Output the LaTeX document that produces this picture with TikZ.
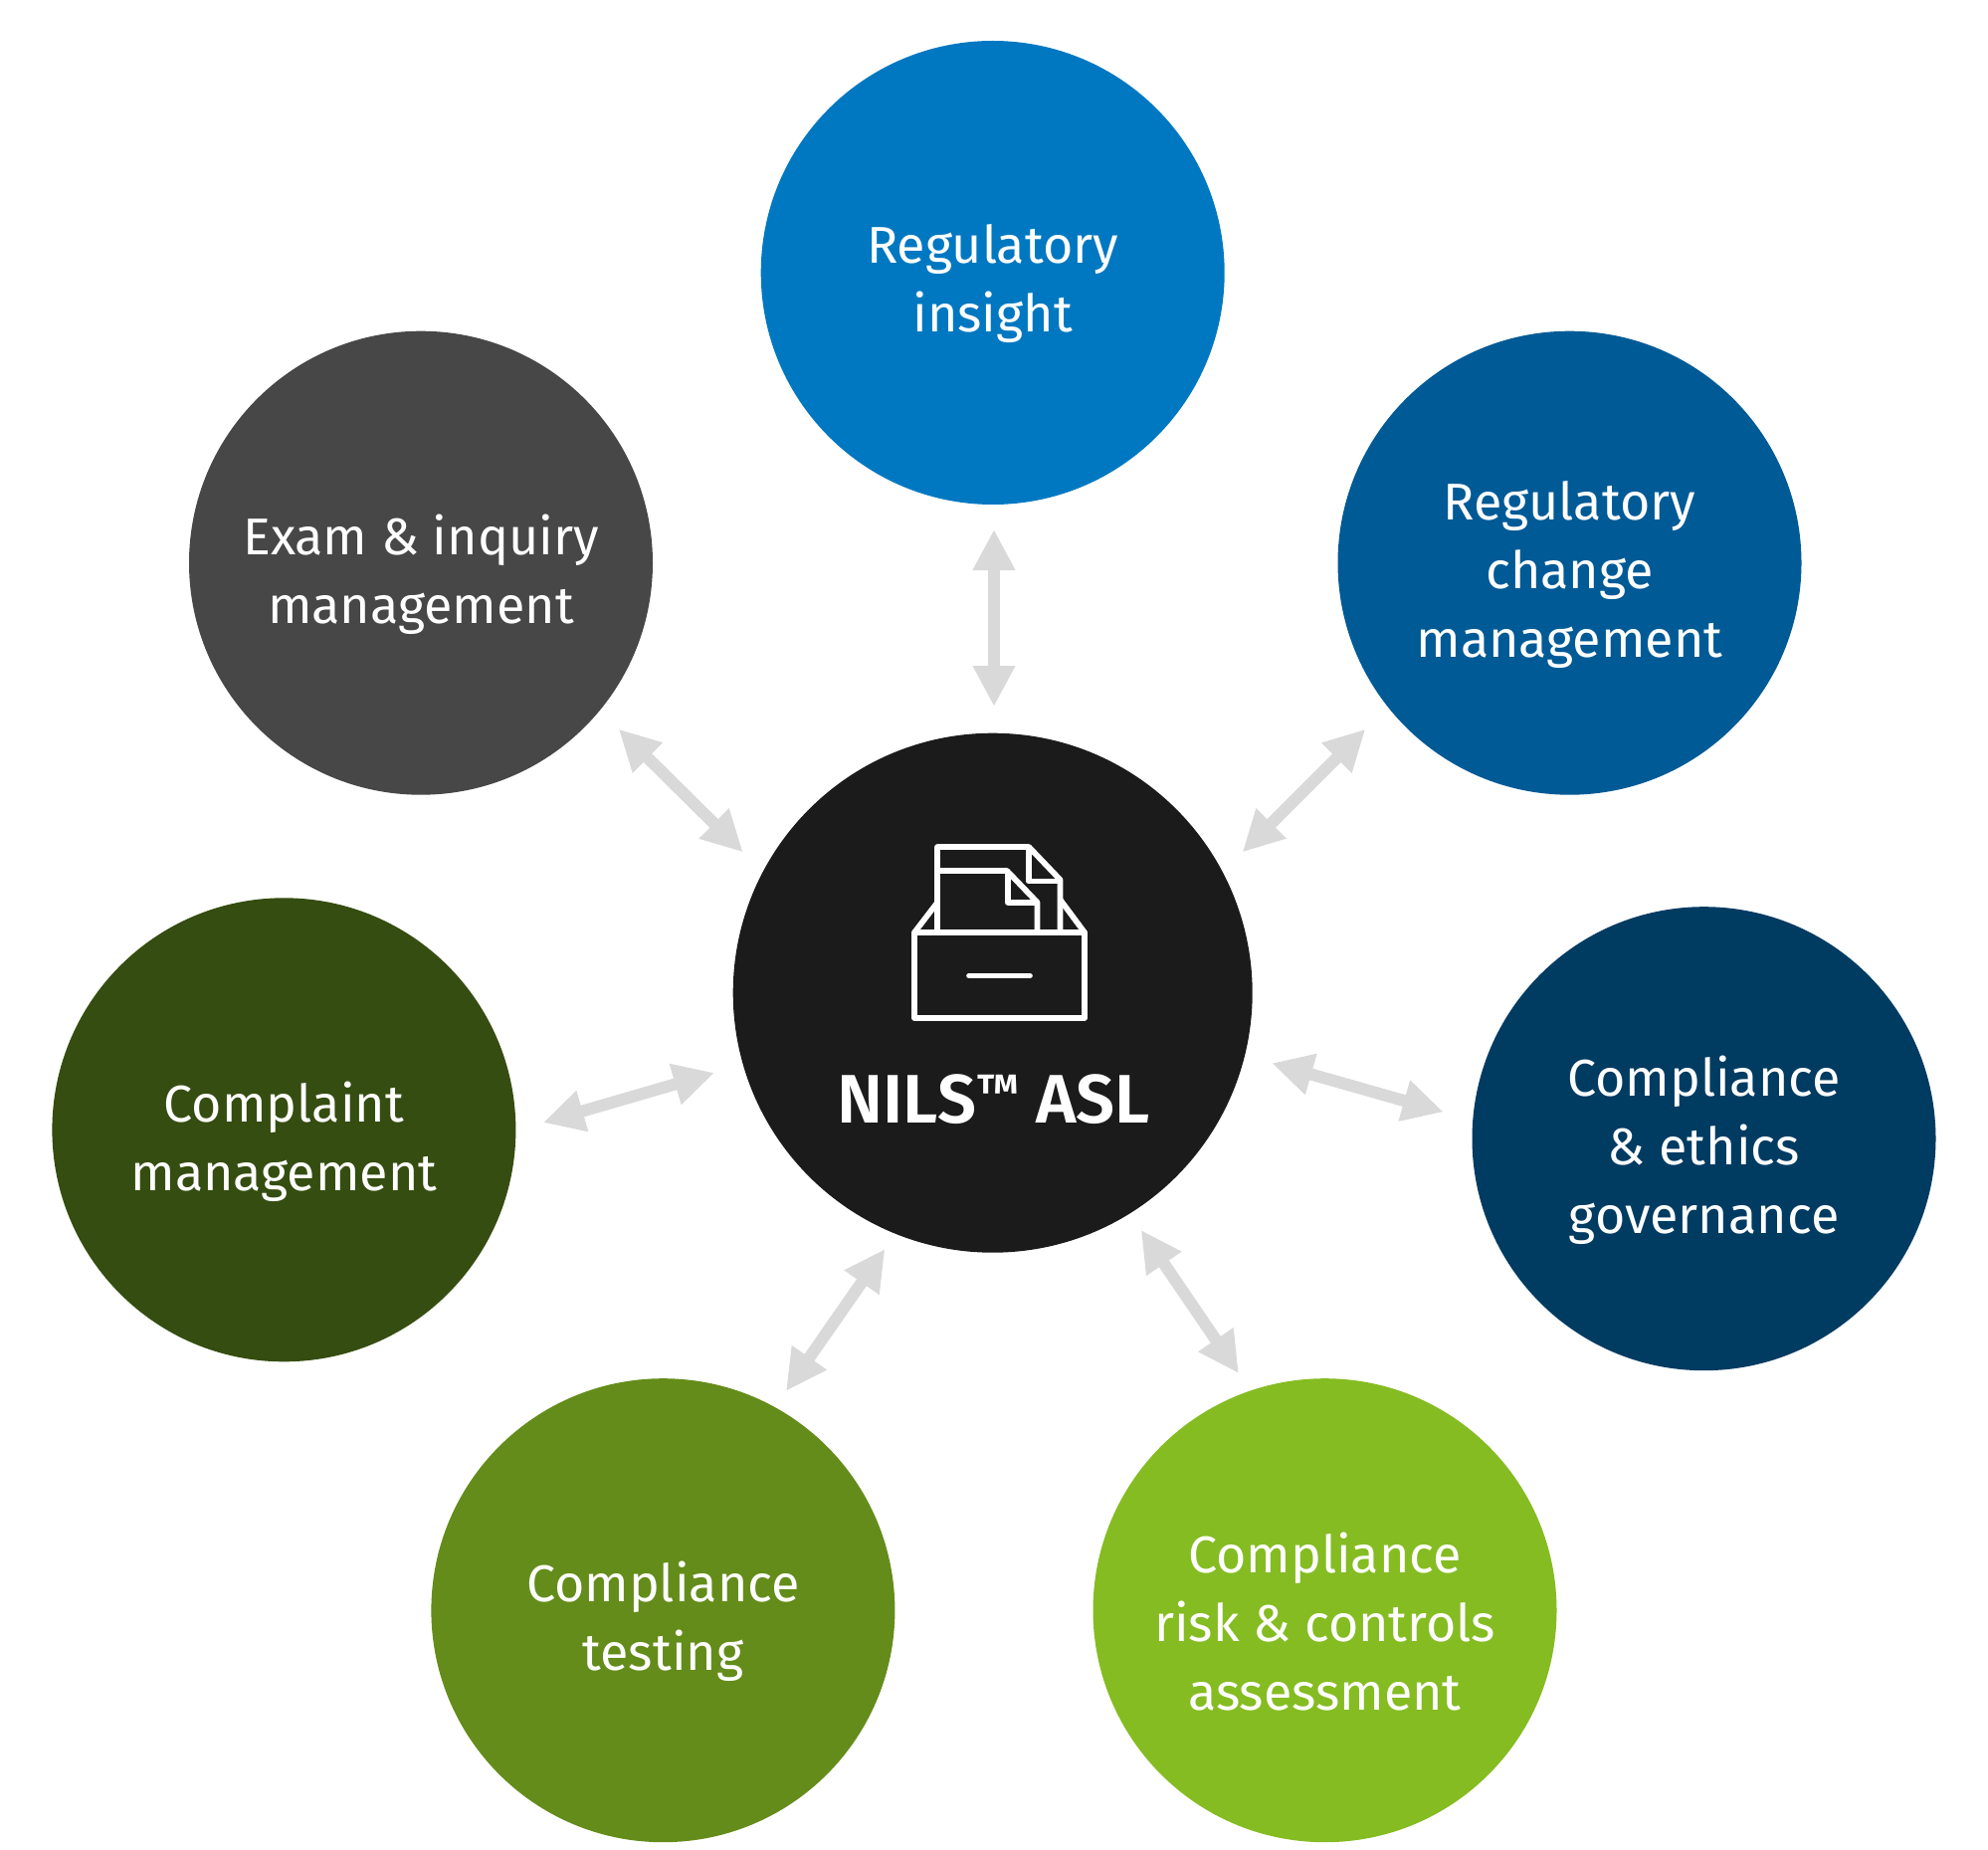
\documentclass[tikz,border=0pt]{standalone}
\usepackage{fontspec}
\setmainfont{Fira Sans}
\newfontfamily\hubfont{Fira Sans SemiBold}
\usetikzlibrary{arrows.meta}
\definecolor{cInsight}{RGB}{0,120,193}
\definecolor{cChange}{RGB}{0,90,150}
\definecolor{cEthics}{RGB}{0,59,98}
\definecolor{cRisk}{RGB}{133,188,34}
\definecolor{cTesting}{RGB}{100,140,26}
\definecolor{cComplaint}{RGB}{53,77,17}
\definecolor{cExam}{RGB}{71,71,71}
\definecolor{cCenter}{RGB}{27,27,27}
\definecolor{cArrow}{RGB}{217,217,217}
\tikzset{
  topic/.style={circle, minimum size=466pt, inner sep=0pt, fill=#1},
  topictext/.style={text=white, align=center, inner sep=0pt, yshift=-11.5pt,
    font=\fontsize{52}{69}\selectfont},
  hub/.style={circle, minimum size=522pt, inner sep=0pt, fill=cCenter},
  link/.style={draw=cArrow, line width=12pt,
    {Triangle[length=41pt,width=40pt]}-{Triangle[length=41pt,width=40pt]}},
  iconline/.style={draw=white, line width=5.7pt, line join=round}
}
\begin{document}
\begin{tikzpicture}[x=1pt,y=-1pt]
\useasboundingbox (0,0) rectangle (1998,1859);
% hub
\node[hub] (hub) at (997.7,997.7) {};
\node[text=white, font=\fontsize{69}{80}\selectfont\hubfont, anchor=base, inner sep=0pt] (hubtext) at (998.5,1128)
  {NILS\raisebox{14.5pt}{\fontsize{48}{48}\selectfont ™} ASL};
% icon
\draw[iconline] (919,937) rectangle (1090,1023);
\draw[iconline, line cap=round] (974,980.5) -- (1035,980.5);
\draw[iconline] (919,937) -- (942,907) -- (942,934);
\draw[iconline] (942,907) -- (942,851) -- (1034,851) -- (1065.5,884) -- (1065.5,934);
\draw[iconline] (1034,851) -- (1034,885.6) -- (1065.5,885.6);
\draw[iconline] (1090,937) -- (1065.5,904);
\draw[iconline] (942,875) -- (1012,875) -- (1042.5,906.7) -- (1042.5,934);
\draw[iconline] (1013,875) -- (1013,906.7) -- (1042.5,906.7);
% topics
\node[topic=cInsight] (insight) at (997.7,274) {};
\node[topic=cChange] (change) at (1577.5,565.7) {};
\node[topic=cExam] (exam) at (423,565.7) {};
\node[topic=cComplaint] (complaint) at (285.4,1135.3) {};
\node[topic=cEthics] (ethics) at (1712.5,1144.2) {};
\node[topic=cTesting] (testing) at (666.4,1618.2) {};
\node[topic=cRisk] (risk) at (1331.5,1618.2) {};
\node[topictext] (insight-t) at (insight) {Regulatory\\insight};
\node[topictext] (change-t) at (change) {Regulatory\\change\\management};
\node[topictext] (exam-t) at (exam) {Exam \& inquiry\\management};
\node[topictext] (complaint-t) at (complaint) {Complaint\\management};
\node[topictext] (ethics-t) at (ethics) {Compliance\\\& ethics\\governance};
\node[topictext] (testing-t) at (testing) {Compliance\\testing};
\node[topictext] (risk-t) at (risk) {Compliance\\risk \& controls\\assessment};
% arrow end points
\coordinate (a1) at (999,532);   \coordinate (b1) at (999,710);
\coordinate (a2) at (1372.3,732.7); \coordinate (b2) at (1248.7,856.3);
\coordinate (a3) at (621.8,732.7);  \coordinate (b3) at (746.7,856.3);
\coordinate (a4) at (546,1128);    \coordinate (b4) at (718,1078);
\coordinate (a5) at (1450.7,1117.3); \coordinate (b5) at (1278.3,1068.3);
\coordinate (a6) at (790,1397.8);  \coordinate (b6) at (889.4,1255.1);
\coordinate (a7) at (1244.9,1380); \coordinate (b7) at (1146.8,1236);
\foreach \i in {1,...,7} \draw[link] (a\i) -- (b\i);
\end{tikzpicture}
\end{document}
